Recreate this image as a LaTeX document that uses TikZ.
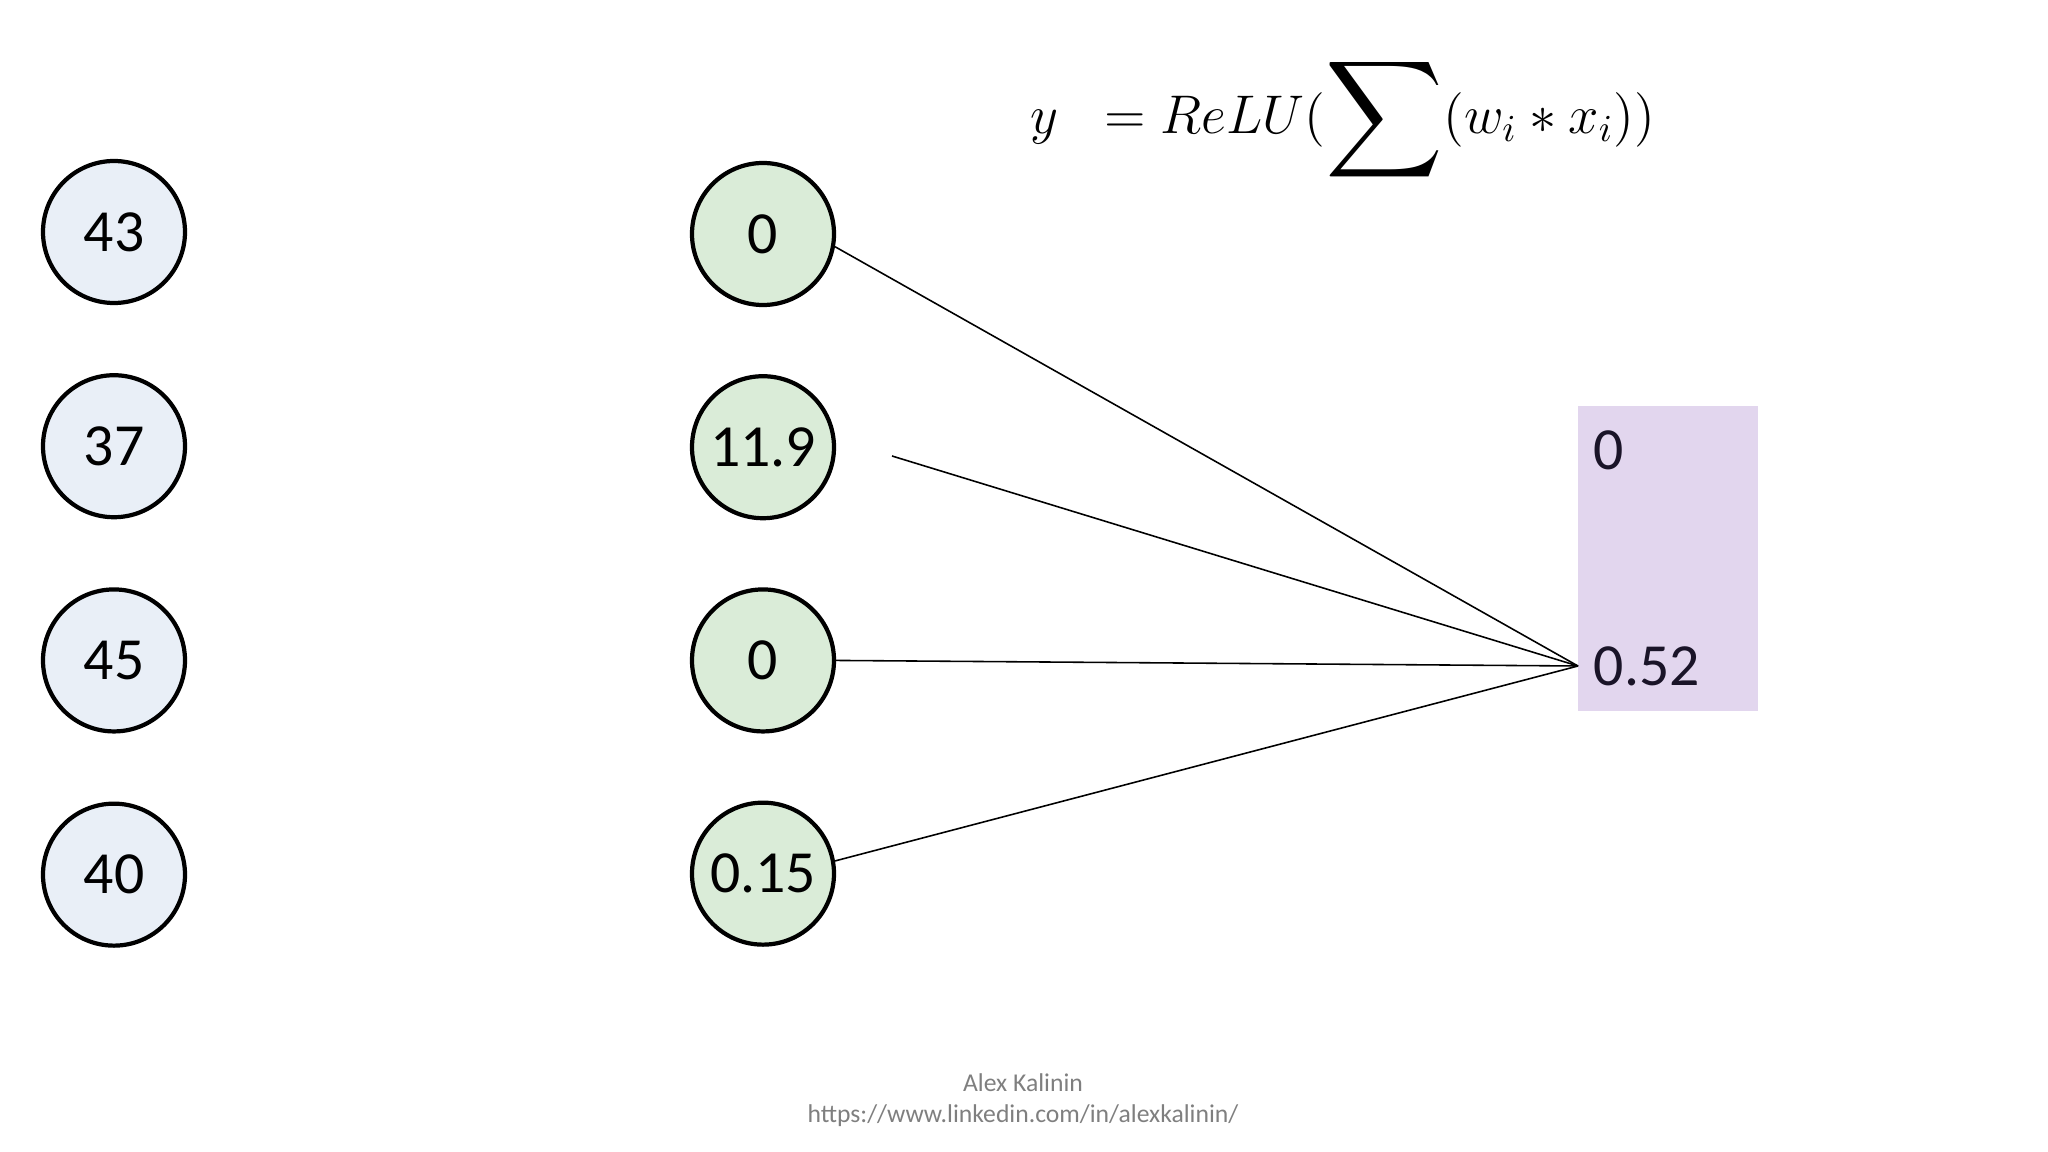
\RequirePackage{fix-cm}
\documentclass[tikz,border=0pt]{standalone}
\usepackage{amsmath,amssymb}
\usepackage{graphicx}
\usepackage{fontspec}
\setmainfont{Carlito}
\usepackage{xcolor}
\usepackage{tikz}
\usetikzlibrary{positioning}

\definecolor{inblue}{HTML}{E9EFF7}
\definecolor{hidgreen}{HTML}{DAECD8}
\definecolor{outpurple}{HTML}{E2D6EE}
\definecolor{credgray}{HTML}{7F7F7F}
\definecolor{valink}{HTML}{1A1428}

\newcommand{\bigsumsym}{\mathop{\vcenter{\hbox{\scalebox{1.5}{$\displaystyle\sum$}}}}}

\begin{document}
\begin{tikzpicture}[node distance=0.68cm,
    neuron/.style={circle,draw,line width=1.2pt,minimum size=1.42cm,inner sep=0pt,
      font=\fontsize{17}{20}\selectfont},
    wire/.style={line width=0.45pt}]
  \useasboundingbox (0,0) rectangle (20.48,-11.52);
  % input column
  \node[neuron,fill=inblue] (in1) at (1.14,-2.32) {43};
  \node[neuron,fill=inblue,below=of in1] (in2) {37};
  \node[neuron,fill=inblue,below=of in2] (in3) {45};
  \node[neuron,fill=inblue,below=of in3] (in4) {40};
  % hidden column (after ReLU)
  \node[neuron,fill=hidgreen] (h1) at (7.63,-2.34) {0};
  \node[neuron,fill=hidgreen,below=0.67cm of h1] (h2) {11.9};
  \node[neuron,fill=hidgreen,below=0.67cm of h2] (h3) {0};
  \node[neuron,fill=hidgreen,below=0.67cm of h3] (h4) {0.15};
  % output values
  \node[fill=outpurple,minimum width=1.80cm,minimum height=3.05cm,inner sep=0pt] (outbox) at (16.68,-5.585) {};
  \node[anchor=west,inner sep=0pt,text=valink,font=\fontsize{17}{20}\selectfont] (out1) at (15.93,-4.50) {0};
  \node[anchor=west,inner sep=0pt,text=valink,font=\fontsize{17}{20}\selectfont] (out2) at (15.93,-6.66) {0.52};
  \coordinate (join) at (15.78,-6.66);
  \coordinate (h2tail) at (8.92,-4.56);
  % weighted connections
  \draw[wire] (h1.-10) -- (join);
  \draw[wire] (h2tail) -- (join);
  \draw[wire] (h3.east) -- (join);
  \draw[wire] (h4.10) -- (join);
  % formula
  \node[font=\fontsize{15.5}{18}\selectfont,inner sep=0pt] (formula) at (13.43,-1.20)
    {$y\;\; = ReLU(\bigsumsym(w_i \ast x_i))$};
  % credit
  \node[align=center,text=credgray,font=\fontsize{7.3}{8.8}\selectfont] (credit) at (10.23,-11.00)
    {Alex Kalinin\\https://www.linkedin.com/in/alexkalinin/};
\end{tikzpicture}
\end{document}
